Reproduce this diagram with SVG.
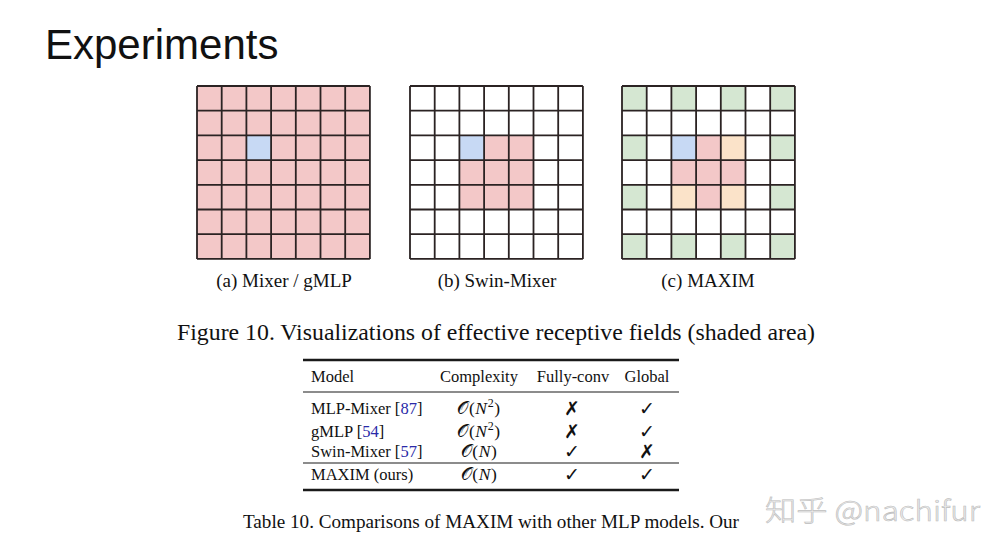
<svg xmlns="http://www.w3.org/2000/svg" width="1006" height="551" viewBox="0 0 1006 551">
<style>
.serif{font-family:"Liberation Serif","Times New Roman",serif;fill:#111}
.lbl{font-size:19px;text-anchor:middle}
.tb{font-size:16.5px}
.mid{text-anchor:middle}
.ref{fill:#2a2aa8}
.gl{fill:none;stroke:#2b2323;stroke-width:1.8}
.pk{fill:#f3c8c8}
.bl{fill:#c7d9f4}
.gr{fill:#d5e7d2}
.or{fill:#fbe3c9}
.cx{font-size:17.5px;text-anchor:middle;letter-spacing:0.6px}
.cal{font-family:"DejaVu Serif",serif}
.mark{font-family:"DejaVu Sans",sans-serif;font-size:19px;font-weight:bold;text-anchor:middle;fill:#111}
.rule{stroke:#1a1a1a}
</style>
<defs>
<path id="grid" class="gl" d="M0 0H172.9M0 24.7H172.9M0 49.4H172.9M0 74.1H172.9M0 98.8H172.9M0 123.5H172.9M0 148.2H172.9M0 172.9H172.9M0 0V172.9M24.7 0V172.9M49.4 0V172.9M74.1 0V172.9M98.8 0V172.9M123.5 0V172.9M148.2 0V172.9M172.9 0V172.9"/>
</defs>
<rect width="1006" height="551" fill="#ffffff"/>
<text id="title" x="45" y="59" font-family="Liberation Sans, Arial, sans-serif" font-size="42" fill="#111">Experiments</text>

<g id="panel-a" transform="translate(197,86)">
<rect class="pk" x="0" y="0" width="172.9" height="172.9"/>
<rect class="bl" x="49.4" y="49.4" width="24.7" height="24.7"/>
<use href="#grid"/>
</g>
<text id="label-a" class="serif lbl" x="284" y="287">(a) Mixer / gMLP</text>

<g id="panel-b" transform="translate(410,86)">
<rect class="pk" x="49.4" y="49.4" width="74.1" height="74.1"/>
<rect class="bl" x="49.4" y="49.4" width="24.7" height="24.7"/>
<use href="#grid"/>
</g>
<text id="label-b" class="serif lbl" x="497" y="287">(b) Swin-Mixer</text>

<g id="panel-c" transform="translate(622,86)">
<rect class="gr" x="0" y="0" width="24.7" height="24.7"/>
<rect class="gr" x="49.4" y="0" width="24.7" height="24.7"/>
<rect class="gr" x="98.8" y="0" width="24.7" height="24.7"/>
<rect class="gr" x="148.2" y="0" width="24.7" height="24.7"/>
<rect class="gr" x="0" y="49.4" width="24.7" height="24.7"/>
<rect class="gr" x="148.2" y="49.4" width="24.7" height="24.7"/>
<rect class="gr" x="0" y="98.8" width="24.7" height="24.7"/>
<rect class="gr" x="148.2" y="98.8" width="24.7" height="24.7"/>
<rect class="gr" x="0" y="148.2" width="24.7" height="24.7"/>
<rect class="gr" x="49.4" y="148.2" width="24.7" height="24.7"/>
<rect class="gr" x="98.8" y="148.2" width="24.7" height="24.7"/>
<rect class="gr" x="148.2" y="148.2" width="24.7" height="24.7"/>
<rect class="pk" x="49.4" y="49.4" width="74.1" height="74.1"/>
<rect class="bl" x="49.4" y="49.4" width="24.7" height="24.7"/>
<rect class="or" x="98.8" y="49.4" width="24.7" height="24.7"/>
<rect class="or" x="49.4" y="98.8" width="24.7" height="24.7"/>
<rect class="or" x="98.8" y="98.8" width="24.7" height="24.7"/>
<use href="#grid"/>
</g>
<text id="label-c" class="serif lbl" x="708" y="287">(c) MAXIM</text>

<text id="fig-caption" class="serif" x="177" y="340" font-size="24" textLength="638" lengthAdjust="spacingAndGlyphs">Figure 10. Visualizations of effective receptive fields (shaded area)</text>

<g id="table">
<line class="rule" x1="303" y1="360" x2="679" y2="360" stroke-width="2.4"/>
<line class="rule" x1="303" y1="392" x2="679" y2="392" stroke-width="1.2"/>
<line class="rule" x1="303" y1="463" x2="679" y2="463" stroke-width="1.2"/>
<line class="rule" x1="303" y1="490" x2="679" y2="490" stroke-width="2.4"/>

<text class="serif tb" x="311" y="382">Model</text>
<text class="serif tb mid" x="479" y="382">Complexity</text>
<text class="serif tb mid" x="573" y="382">Fully-conv</text>
<text class="serif tb mid" x="647" y="382">Global</text>

<text class="serif tb" x="311" y="414">MLP-Mixer [<tspan class="ref">87</tspan>]</text>
<text class="serif tb" x="311" y="437">gMLP [<tspan class="ref">54</tspan>]</text>
<text class="serif tb" x="311" y="457">Swin-Mixer [<tspan class="ref">57</tspan>]</text>
<text class="serif tb" x="311" y="480">MAXIM (ours)</text>

<text class="serif cx" x="479" y="414"><tspan class="cal">𝒪</tspan>(<tspan font-style="italic">N</tspan><tspan font-size="12" dy="-7">2</tspan><tspan dy="7">)</tspan></text>
<text class="serif cx" x="479" y="437"><tspan class="cal">𝒪</tspan>(<tspan font-style="italic">N</tspan><tspan font-size="12" dy="-7">2</tspan><tspan dy="7">)</tspan></text>
<text class="serif cx" x="479" y="457"><tspan class="cal">𝒪</tspan>(<tspan font-style="italic">N</tspan>)</text>
<text class="serif cx" x="479" y="480"><tspan class="cal">𝒪</tspan>(<tspan font-style="italic">N</tspan>)</text>

<text class="mark" x="572" y="415">✗</text>
<text class="mark" x="572" y="438">✗</text>
<text class="mark" x="572" y="458">✓</text>
<text class="mark" x="572" y="481">✓</text>
<text class="mark" x="647" y="415">✓</text>
<text class="mark" x="647" y="438">✓</text>
<text class="mark" x="647" y="458">✗</text>
<text class="mark" x="647" y="481">✓</text>
</g>

<text id="table-caption" class="serif" x="243" y="528" font-size="18" textLength="496" lengthAdjust="spacingAndGlyphs">Table 10. Comparisons of MAXIM with other MLP models. Our</text>

<text id="watermark" x="765" y="521" font-family="Noto Sans CJK SC, Noto Sans, sans-serif" font-size="28" font-weight="300" fill="#ececec" stroke="#bdbdbd" stroke-width="0.6" textLength="215" lengthAdjust="spacingAndGlyphs">知乎 @nachifur</text>
</svg>
